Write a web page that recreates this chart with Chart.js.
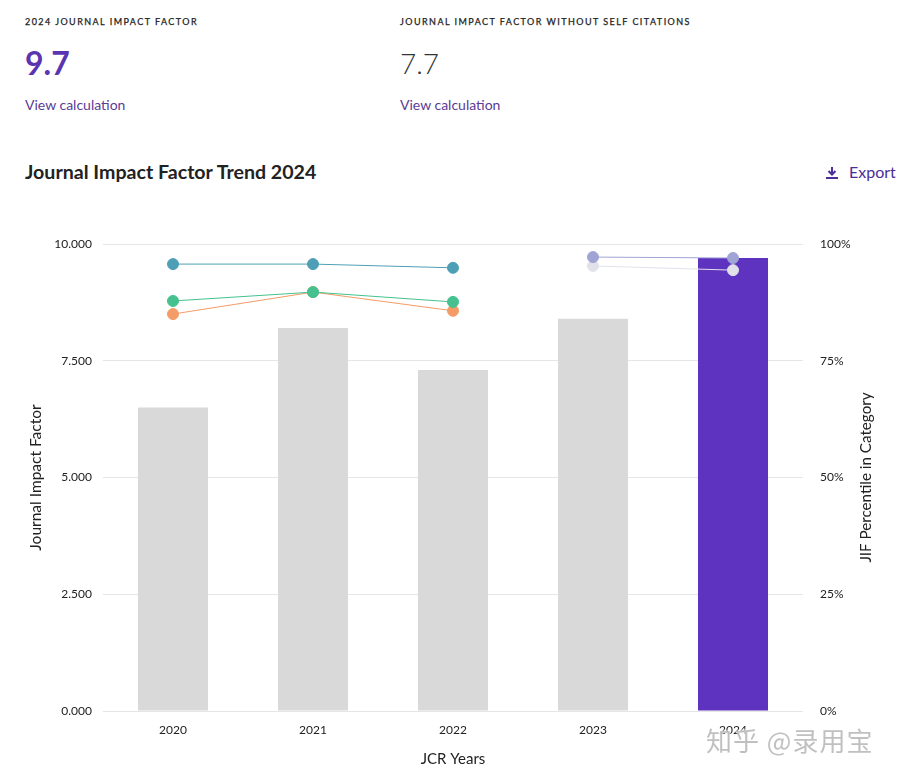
<!DOCTYPE html>
<html>
<head>
<meta charset="utf-8">
<script src="https://cdn.jsdelivr.net/npm/chart.js@4.4.1/dist/chart.umd.min.js"></script>
<style>
  html, body { margin: 0; padding: 0; background: #fff; }
  body { width: 898px; height: 774px; position: relative; overflow: hidden;
         font-family: 'Lato', 'Noto Sans', sans-serif; color: #222; }
  .metric { position: absolute; top: 0; }
  .metric .lbl { position: absolute; top: 16px; white-space: nowrap; font-size: 9px;
                 letter-spacing: 1.45px; font-weight: 400; color: #222; -webkit-text-stroke: 0.25px #222; }
  .metric .val { position: absolute; top: 44px; font-size: 32px; line-height: 38px; white-space: nowrap; }
  .metric .link { position: absolute; top: 96px; font-size: 14px; color: #5a3c96; white-space: nowrap; }
  .title { position: absolute; left: 25px; top: 160px; font-size: 19.6px; font-weight: 700; color: #222; }
  .export { position: absolute; left: 826px; top: 162px; font-size: 16px; color: #4b2e9a; white-space: nowrap; }
  .export svg { vertical-align: -1px; margin-right: 11px; }
  .chart-box { position: absolute; left: 0; top: 224px; width: 898px; height: 550px; }
  .wm { position: absolute; left: 706px; top: 721px; font-family: 'Noto Sans CJK SC', sans-serif;
        font-size: 26px; color: rgba(165,165,165,0.7); white-space: nowrap;
        text-shadow: 0 0 2px #fff, 0 0 2px #fff; letter-spacing: 1px; }
</style>
</head>
<body>
  <div class="metric" style="left:25px">
    <div class="lbl">2024 JOURNAL IMPACT FACTOR</div>
    <div class="val" style="color:#5b35b1;font-weight:700">9.7</div>
    <div class="link">View calculation</div>
  </div>
  <div class="metric" style="left:400px">
    <div class="lbl">JOURNAL IMPACT FACTOR WITHOUT SELF CITATIONS</div>
    <div class="val" style="color:#333;font-weight:300;font-size:28px">7.7</div>
    <div class="link">View calculation</div>
  </div>

  <div class="title">Journal Impact Factor Trend 2024</div>
  <div class="export">
    <svg width="12" height="12" viewBox="0 0 12 12"><path d="M6 0v7M2.5 4L6 7.5 9.5 4" stroke="#4b2e9a" stroke-width="2" fill="none"/><rect x="0" y="10" width="12" height="2" fill="#4b2e9a"/></svg>Export
  </div>

  <div class="chart-box"><canvas id="jifChart"></canvas></div>
  <div class="wm">知乎 @录用宝</div>

<script>
// ─── DATA ─────────────────────────────────────────
const years       = ['2020', '2021', '2022', '2023', '2024'];
const jifValues   = [6.5, 8.2, 7.3, 8.4, 9.7];
const barColors   = ['#d9d9d9', '#d9d9d9', '#d9d9d9', '#d9d9d9', '#5e33bf'];

// JIF percentile series (percent), one per category
const pctTeal     = [95.7, 95.7, 94.9, null, null];
const pctGreen    = [87.8, 89.7, 87.6, null, null];
const pctOrange   = [85.0, 89.7, 85.7, null, null];
const pctLavender = [null, null, null, 97.2, 97.0];
const pctLight    = [null, null, null, 95.3, 94.4];

const leftTicks   = [0, 2.5, 5, 7.5, 10];
const rightTicks  = [0, 25, 50, 75, 100];

// ─── CHART ────────────────────────────────────────
Chart.defaults.font.family = "'Lato', 'Noto Sans', sans-serif";
Chart.defaults.color = '#222';

const LEFT_EDGE = 103, RIGHT_EDGE = 803;

function lineSet(data, color) {
  return {
    type: 'line', data, yAxisID: 'y1', order: 1,
    borderColor: color, backgroundColor: color,
    pointBackgroundColor: color, pointBorderColor: color,
    borderWidth: 1, pointRadius: 5.5, pointHoverRadius: 6,
    spanGaps: false, tension: 0
  };
}

// right axis title reads bottom-to-top like the left one
const rightTitle = {
  id: 'rightTitle',
  afterDraw(chart) {
    const { ctx, chartArea } = chart;
    ctx.save();
    ctx.translate(866, (chartArea.top + chartArea.bottom) / 2);
    ctx.rotate(-Math.PI / 2);
    ctx.font = "15.2px 'Lato', 'Noto Sans', sans-serif";
    ctx.fillStyle = '#222';
    ctx.textAlign = 'center';
    ctx.textBaseline = 'middle';
    ctx.fillText('JIF Percentile in Category', 0, 0);
    ctx.restore();
  }
};

new Chart(document.getElementById('jifChart'), {
  type: 'bar',
  data: {
    labels: years,
    datasets: [
      lineSet(pctTeal, '#4e9fb6'),
      lineSet(pctGreen, '#44c18e'),
      lineSet(pctOrange, '#f59b66'),
      lineSet(pctLavender, '#9fa4d4'),
      lineSet(pctLight, '#e1e1ea'),
      {
        type: 'bar', data: jifValues, yAxisID: 'y', order: 2,
        backgroundColor: barColors,
        categoryPercentage: 1, barPercentage: 0.5
      }
    ]
  },
  options: {
    responsive: true,
    maintainAspectRatio: false,
    animation: false,
    layout: { padding: { top: 20, left: 0, right: 0, bottom: 0 } },
    plugins: { legend: { display: false }, tooltip: { enabled: false } },
    scales: {
      x: {
        grid: { display: false },
        border: { display: false },
        ticks: { font: { size: 12 }, padding: 4, color: '#222' },
        title: { display: true, text: 'JCR Years', font: { size: 15 }, padding: { top: 4, bottom: 6 }, color: '#222' },
        afterFit: s => { s.height = 63; }
      },
      y: {
        position: 'left', min: 0, max: 10,
        afterBuildTicks: s => { s.ticks = leftTicks.map(v => ({ value: v })); },
        grid: { color: '#e6e6e6', drawTicks: false },
        border: { display: false },
        ticks: { font: { size: 12 }, padding: 11, color: '#222', callback: v => v.toFixed(3) },
        title: { display: true, text: 'Journal Impact Factor', font: { size: 15.5 }, padding: { top: 27, bottom: 0 }, color: '#222' },
        afterFit: s => { s.width = LEFT_EDGE; }
      },
      y1: {
        position: 'right', min: 0, max: 100,
        afterBuildTicks: s => { s.ticks = rightTicks.map(v => ({ value: v })); },
        grid: { display: false },
        border: { display: false },
        ticks: { font: { size: 12 }, padding: 9, color: '#222', callback: v => v + '%' },
        afterFit: s => { s.width = 898 - RIGHT_EDGE; }
      }
    }
  },
  plugins: [rightTitle]
});
</script>
</body>
</html>
